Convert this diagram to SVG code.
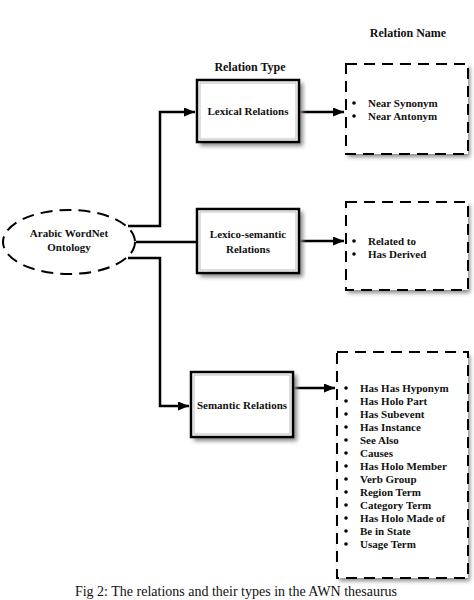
<svg xmlns="http://www.w3.org/2000/svg" width="474" height="600" viewBox="0 0 474 600">
<defs>
<filter id="sh" x="-20%" y="-20%" width="150%" height="150%">
<feGaussianBlur stdDeviation="2"/>
</filter>
<marker id="ah" markerWidth="11" markerHeight="9" refX="11" refY="4.5" orient="auto" markerUnits="userSpaceOnUse">
<path d="M0,0 L11,4.5 L0,9 Z" fill="#000"/>
</marker>
<style>
.t{font-family:"Liberation Serif","Times New Roman",serif;font-weight:bold;font-size:11px;fill:#111}
.h{font-family:"Liberation Serif","Times New Roman",serif;font-weight:bold;font-size:12px;fill:#111}
.cap{font-family:"Liberation Serif","Times New Roman",serif;font-size:14px;fill:#111}
.box{fill:#fff;stroke:#000;stroke-width:2.5}
.inner{fill:none;stroke:#bbb;stroke-width:1}
.shadow{fill:#888;filter:url(#sh)}
.dash{fill:#fff;stroke:#000;stroke-width:2;stroke-dasharray:11,7}
.ln{fill:none;stroke:#000;stroke-width:2.5}
</style>
</defs>
<rect width="474" height="600" fill="#fff"/>

<text class="h" x="408" y="37" text-anchor="middle">Relation Name</text>
<text class="h" x="250" y="71" text-anchor="middle">Relation Type</text>

<g id="connectors">
<path class="ln" d="M128,226 H160 V112 H195" marker-end="url(#ah)"/>
<path class="ln" d="M136,242 H197"/>
<path class="ln" d="M128,258 H160 V406 H189" marker-end="url(#ah)"/>
<path class="ln" d="M299,112 H344" marker-end="url(#ah)"/>
<path class="ln" d="M300,241 H344" marker-end="url(#ah)"/>
<path class="ln" d="M294,388 H335" marker-end="url(#ah)"/>
</g>

<g id="awn">
<ellipse cx="69" cy="242" rx="66" ry="32" fill="#fff" stroke="#000" stroke-width="2" stroke-dasharray="12,7"/>
<text class="t" x="69" y="237" text-anchor="middle">Arabic WordNet</text>
<text class="t" x="69" y="251" text-anchor="middle">Ontology</text>
</g>

<g id="lexical">
<rect class="shadow" x="200" y="83" width="103" height="63"/>
<rect class="box" x="197" y="80" width="102" height="62"/>
<rect class="inner" x="200" y="83" width="96" height="56"/>
<text class="t" x="248" y="115" text-anchor="middle">Lexical Relations</text>
</g>

<g id="lexicosemantic">
<rect class="shadow" x="200" y="212" width="103" height="65"/>
<rect class="box" x="197" y="209" width="102" height="64"/>
<rect class="inner" x="200" y="212" width="96" height="58"/>
<text class="t" x="248" y="238" text-anchor="middle">Lexico-semantic</text>
<text class="t" x="248" y="253" text-anchor="middle">Relations</text>
</g>

<g id="semantic">
<rect class="shadow" x="194" y="375" width="103" height="66"/>
<rect class="box" x="191" y="372" width="102" height="65"/>
<rect class="inner" x="194" y="375" width="96" height="59"/>
<text class="t" x="242" y="409" text-anchor="middle">Semantic Relations</text>
</g>

<g id="names1">
<rect class="shadow" x="348" y="67" width="122" height="90"/>
<rect class="dash" x="346" y="64" width="122" height="90"/>
<circle cx="354" cy="103" r="1.8" fill="#000"/>
<circle cx="354" cy="116" r="1.8" fill="#000"/>
<text class="t" x="368" y="107">Near Synonym</text>
<text class="t" x="368" y="120">Near Antonym</text>
</g>

<g id="names2">
<rect class="shadow" x="348" y="205" width="122" height="88"/>
<rect class="dash" x="346" y="202" width="122" height="88"/>
<circle cx="354" cy="241" r="1.8" fill="#000"/>
<circle cx="354" cy="254" r="1.8" fill="#000"/>
<text class="t" x="368" y="245">Related to</text>
<text class="t" x="368" y="258">Has Derived</text>
</g>

<g id="names3">
<rect class="shadow" x="339" y="355" width="131" height="226"/>
<rect class="dash" x="337" y="352" width="131" height="226"/>
<g fill="#000">
<circle cx="346" cy="388" r="1.8"/><circle cx="346" cy="401" r="1.8"/><circle cx="346" cy="414" r="1.8"/>
<circle cx="346" cy="427" r="1.8"/><circle cx="346" cy="440" r="1.8"/><circle cx="346" cy="453" r="1.8"/>
<circle cx="346" cy="466" r="1.8"/><circle cx="346" cy="479" r="1.8"/><circle cx="346" cy="492" r="1.8"/>
<circle cx="346" cy="505" r="1.8"/><circle cx="346" cy="518" r="1.8"/><circle cx="346" cy="531" r="1.8"/>
<circle cx="346" cy="544" r="1.8"/>
</g>
<text class="t" x="360" y="392">Has Has Hyponym</text>
<text class="t" x="360" y="405">Has Holo Part</text>
<text class="t" x="360" y="418">Has Subevent</text>
<text class="t" x="360" y="431">Has Instance</text>
<text class="t" x="360" y="444">See Also</text>
<text class="t" x="360" y="457">Causes</text>
<text class="t" x="360" y="470">Has Holo Member</text>
<text class="t" x="360" y="483">Verb Group</text>
<text class="t" x="360" y="496">Region Term</text>
<text class="t" x="360" y="509">Category Term</text>
<text class="t" x="360" y="522">Has Holo Made of</text>
<text class="t" x="360" y="535">Be in State</text>
<text class="t" x="360" y="548">Usage Term</text>
</g>

<text class="cap" x="236" y="596" text-anchor="middle">Fig 2: The relations and their types in the AWN thesaurus</text>
</svg>
